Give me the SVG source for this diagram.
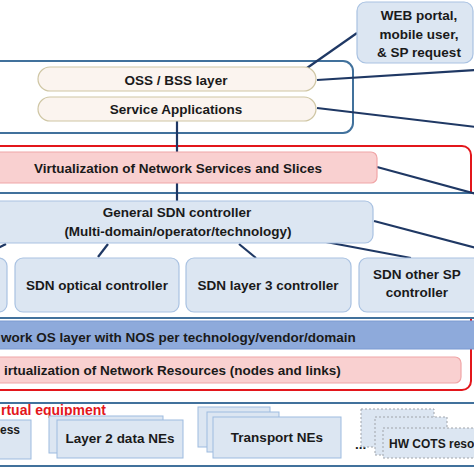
<svg xmlns="http://www.w3.org/2000/svg" width="474" height="474" viewBox="0 0 474 474">
<defs>
<style>
text{font-family:"Liberation Sans",Arial,sans-serif;font-weight:bold;font-size:13.5px;fill:#1a1a1a}
.c{text-anchor:middle}
.cont{fill:#fff;stroke:#41719c;stroke-width:2}
.red{fill:#fff;stroke:#e3161b;stroke-width:2}
.pill{fill:#fbf4ef;stroke:#cfc6a4;stroke-width:1.2}
.pink{fill:#f9d0d0;stroke:#f0a6a7;stroke-width:1.2}
.lb{fill:#dce6f2;stroke:#a9c2e2;stroke-width:1.2}
.ne{fill:#dce6f2;stroke:#9dbbe0;stroke-width:1}
.dash{fill:#dce6f2;stroke:#a0a4aa;stroke-width:1;stroke-dasharray:2 2}
.nos{fill:#8eaadb;stroke:#7b9ad2;stroke-width:1}
.ln{stroke:#1f3864;stroke-width:2.2;fill:none}
</style>
</defs>
<g id="containers">
<rect class="red" x="-20" y="146" width="491" height="244" rx="9"/>
<rect class="cont" x="-20" y="61" width="373" height="72" rx="10"/>
<rect class="cont" x="-20" y="193" width="510" height="125" rx="9"/>
<rect class="cont" x="-20" y="403" width="510" height="63" rx="8"/>
</g>
<g id="connectors">
<line class="ln" x1="357" y1="33" x2="307" y2="68"/>
<line class="ln" x1="317" y1="80" x2="476" y2="70"/>
<line class="ln" x1="317" y1="108" x2="476" y2="127"/>
<line class="ln" x1="177" y1="121" x2="177" y2="201"/>
<line class="ln" x1="377" y1="167" x2="476" y2="194"/>
<line class="ln" x1="374" y1="221" x2="476" y2="248"/>
<line class="ln" x1="-10" y1="252" x2="6" y2="244"/>
<line class="ln" x1="98" y1="257" x2="108" y2="244"/>
<line class="ln" x1="239" y1="244" x2="256" y2="258"/>
<line class="ln" x1="326" y1="242" x2="411" y2="258"/>
</g>
<g id="web">
<rect class="lb" x="357" y="2" width="116" height="61" rx="9"/>
<text class="c" x="419" y="20">WEB portal,</text>
<text class="c" x="419" y="38.5">mobile user,</text>
<text class="c" x="419" y="57">&amp; SP request</text>
</g>
<g id="oss">
<rect class="pill" x="38" y="67" width="278" height="24" rx="12"/>
<text class="c" x="176" y="85">OSS / BSS layer</text>
</g>
<g id="apps">
<rect class="pill" x="38" y="97" width="278" height="24" rx="12"/>
<text class="c" x="176" y="114">Service Applications</text>
</g>
<g id="virt-services">
<rect class="pink" x="-20" y="152" width="397" height="31" rx="6"/>
<text class="c" x="178" y="173">Virtualization of Network Services and Slices</text>
</g>
<g id="general-sdn">
<rect class="lb" x="-20" y="201" width="393" height="42" rx="8"/>
<text class="c" x="177" y="217">General SDN controller</text>
<text class="c" x="178" y="236">(Multi-domain/operator/technology)</text>
</g>
<g id="sdn-left">
<rect class="lb" x="-60" y="258" width="67" height="54" rx="8"/>
</g>
<g id="sdn-optical">
<rect class="lb" x="15" y="258" width="164" height="54" rx="8"/>
<text class="c" x="97" y="290">SDN optical controller</text>
</g>
<g id="sdn-l3">
<rect class="lb" x="186" y="258" width="165" height="54" rx="8"/>
<text class="c" x="268" y="290">SDN layer 3 controller</text>
</g>
<g id="sdn-other">
<rect class="lb" x="359" y="258" width="130" height="54" rx="8"/>
<text class="c" x="417" y="279">SDN other SP</text>
<text class="c" x="417" y="297">controller</text>
</g>
<g id="nos">
<rect class="nos" x="-20" y="321" width="510" height="28"/>
<text x="1" y="342">work OS layer with NOS per technology/vendor/domain</text>
</g>
<g id="virt-resources">
<rect class="pink" x="-20" y="357" width="481" height="26" rx="6"/>
<text x="4" y="375">irtualization of Network Resources (nodes and links)</text>
</g>
<g id="virtual-equipment">
<text x="1" y="415" style="fill:#e3161b;font-size:14px">rtual equipment</text>
</g>
<g id="access">
<rect class="ne" x="-40" y="420" width="71" height="39"/>
<text x="0" y="434" style="font-size:12px">ess</text>
</g>
<g id="layer2">
<rect class="ne" x="49" y="416" width="114" height="37"/>
<rect class="ne" x="57" y="420" width="126" height="38"/>
<text class="c" x="120" y="443">Layer 2 data NEs</text>
</g>
<g id="transport">
<rect class="ne" x="198" y="407" width="72" height="40"/>
<rect class="ne" x="207" y="412" width="72" height="40"/>
<rect class="ne" x="213" y="417" width="128" height="41"/>
<text class="c" x="277" y="442">Transport NEs</text>
</g>
<g id="dots">
<text x="355" y="449">...</text>
</g>
<g id="hw-cots">
<rect class="dash" x="361" y="409" width="73" height="38"/>
<rect class="dash" x="375" y="417" width="72" height="38"/>
<rect class="dash" x="383" y="428" width="100" height="30"/>
<text x="389" y="448" style="font-size:12px">HW COTS reso</text>
</g>
</svg>
